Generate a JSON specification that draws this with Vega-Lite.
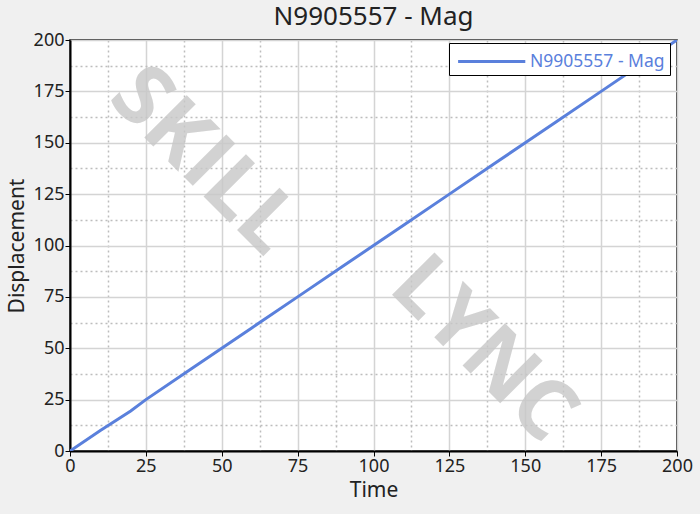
{
  "$schema": "https://vega.github.io/schema/vega-lite/v6.json",
  "width": 607,
  "height": 411,
  "autosize": {"type": "none"},
  "padding": {"left": 70, "top": 40, "right": 23, "bottom": 63},
  "background": "#f0f0f0",
  "title": {"text": "N9905557 - Mag", "fontSize": 26, "font": "Noto Sans", "fontWeight": "normal", "color": "#222222", "offset": 1},
  "config": {
    "view": {"fill": "white", "stroke": "black", "strokeWidth": 1.5},
    "font": "Noto Sans"
  },
  "encoding": {
    "x": {
      "field": "time", "type": "quantitative",
      "scale": {"domain": [0, 200], "nice": false},
      "axis": {
        "title": "Time", "titleFontSize": 21, "titleFontWeight": "normal", "titleColor": "#222222", "titlePadding": 4,
        "values": [0, 12.5, 25, 37.5, 50, 62.5, 75, 87.5, 100, 112.5, 125, 137.5, 150, 162.5, 175, 187.5, 200],
        "labelExpr": "datum.value % 25 === 0 ? datum.label : ''",
        "labelFontSize": 18, "labelColor": "#222222", "labelPadding": 1, "labelFlush": false,
        "domainColor": "black", "domainWidth": 2,
        "tickColor": "black", "tickSize": 5,
        "tickOpacity": {"condition": {"test": "datum.value % 25 === 0", "value": 1}, "value": 0},
        "grid": true,
        "gridColor": {"condition": {"test": "datum.value % 25 === 0", "value": "#d4d4d4"}, "value": "#bdbdbd"},
        "gridDash": {"condition": {"test": "datum.value % 25 === 0", "value": []}, "value": [2, 3]},
        "gridWidth": 1.5,
        "labelOverlap": false
      }
    },
    "y": {
      "field": "disp", "type": "quantitative",
      "scale": {"domain": [0, 200], "nice": false},
      "axis": {
        "title": "Displacement", "titleFontSize": 21, "titleFontWeight": "normal", "titleColor": "#222222", "titlePadding": 6,
        "values": [0, 12.5, 25, 37.5, 50, 62.5, 75, 87.5, 100, 112.5, 125, 137.5, 150, 162.5, 175, 187.5, 200],
        "labelExpr": "datum.value % 25 === 0 ? datum.label : ''",
        "labelFontSize": 18, "labelColor": "#222222", "labelPadding": 1, "labelFlush": false,
        "domainColor": "black", "domainWidth": 2,
        "tickColor": "black", "tickSize": 5,
        "tickOpacity": {"condition": {"test": "datum.value % 25 === 0", "value": 1}, "value": 0},
        "grid": true,
        "gridColor": {"condition": {"test": "datum.value % 25 === 0", "value": "#d4d4d4"}, "value": "#bdbdbd"},
        "gridDash": {"condition": {"test": "datum.value % 25 === 0", "value": []}, "value": [2, 3]},
        "gridWidth": 1.5,
        "labelOverlap": false
      }
    }
  },
  "layer": [
    {
      "data": {"values": [{"t": "SKILL", "time": 44, "disp": 141}, {"t": "LYNC", "time": 136, "disp": 49}]},
      "mark": {"type": "text", "fontSize": 84, "angle": 45, "color": "#c8c8c8", "font": "Open Sans", "fontWeight": "bold", "opacity": 0.8},
      "encoding": {
        "text": {"field": "t"}
      }
    },
    {
      "data": {"values": [
        {"time": 0, "disp": 0, "series": "N9905557 - Mag"},
        {"time": 10, "disp": 10, "series": "N9905557 - Mag"},
        {"time": 20, "disp": 19.5, "series": "N9905557 - Mag"},
        {"time": 25, "disp": 25, "series": "N9905557 - Mag"},
        {"time": 40, "disp": 40, "series": "N9905557 - Mag"},
        {"time": 50, "disp": 50, "series": "N9905557 - Mag"},
        {"time": 60, "disp": 60, "series": "N9905557 - Mag"},
        {"time": 75, "disp": 75, "series": "N9905557 - Mag"},
        {"time": 90, "disp": 90, "series": "N9905557 - Mag"},
        {"time": 100, "disp": 100, "series": "N9905557 - Mag"},
        {"time": 110, "disp": 110, "series": "N9905557 - Mag"},
        {"time": 125, "disp": 125, "series": "N9905557 - Mag"},
        {"time": 140, "disp": 140, "series": "N9905557 - Mag"},
        {"time": 150, "disp": 150, "series": "N9905557 - Mag"},
        {"time": 160, "disp": 160, "series": "N9905557 - Mag"},
        {"time": 175, "disp": 175, "series": "N9905557 - Mag"},
        {"time": 190, "disp": 190, "series": "N9905557 - Mag"},
        {"time": 200, "disp": 200, "series": "N9905557 - Mag"}
      ]},
      "mark": {"type": "line", "strokeWidth": 3, "clip": true},
      "encoding": {
        "color": {
          "field": "series", "type": "nominal",
          "scale": {"range": ["#5a80dc"]},
          "legend": {
            "title": null, "orient": "none", "legendX": 379, "legendY": 3,
            "symbolType": "M-5.2,0H0.4", "symbolSize": 576, "symbolStrokeWidth": 3, "symbolOffset": 53,
            "labelFontSize": 17.5, "labelColor": "#5a80dc", "labelLimit": 300, "labelOffset": -4,
            "strokeColor": "black", "fillColor": "white", "padding": 5, "cornerRadius": 0
          }
        }
      }
    }
  ]
}
